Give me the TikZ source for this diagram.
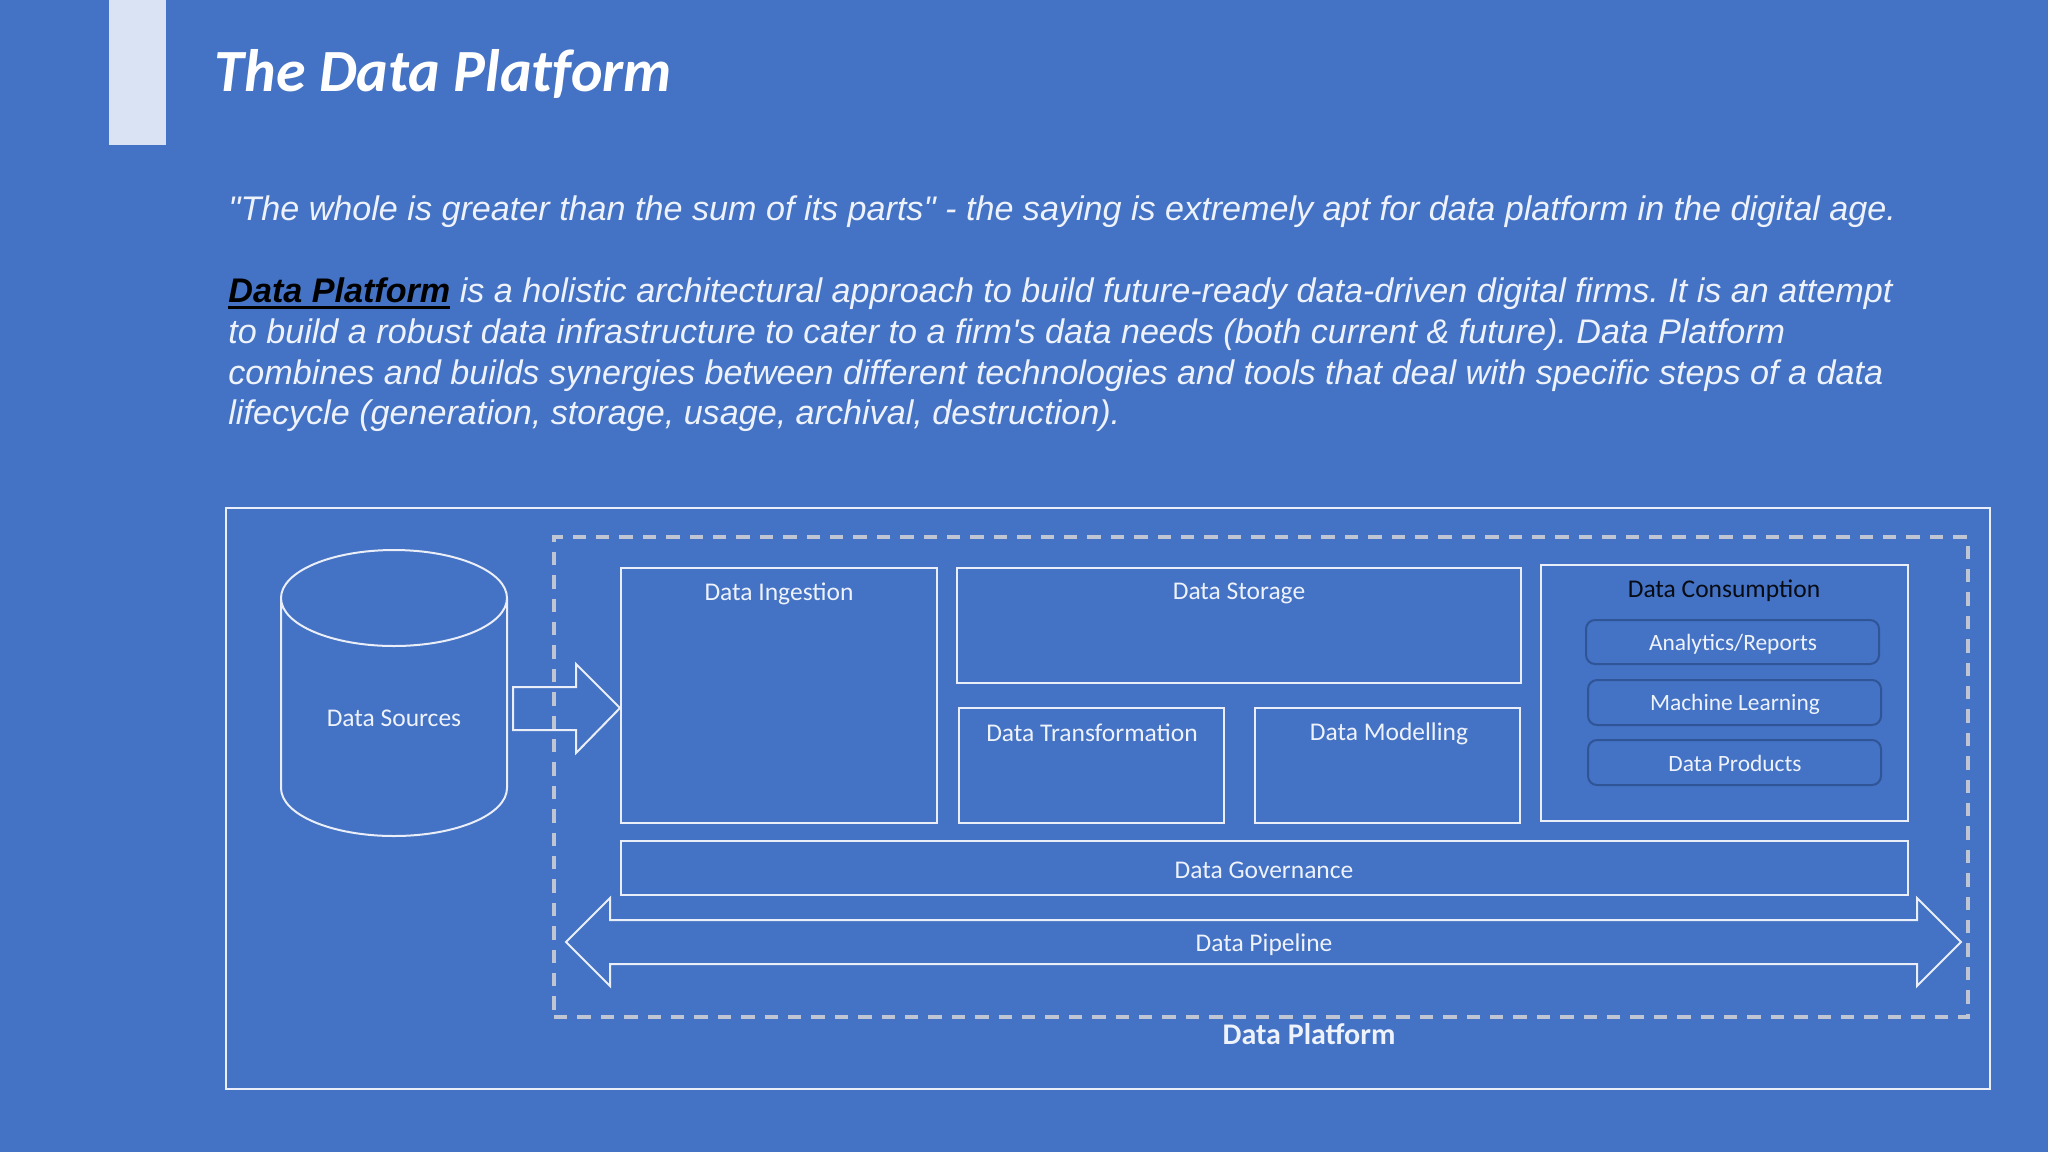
\documentclass[tikz,border=0pt]{standalone}
\usepackage{fontspec}
\setmainfont{Carlito}[Ligatures=TeX]
\newfontfamily\bodyf{Liberation Sans}
\newfontfamily\titlef{Carlito}[Ligatures={NoCommon},BoldItalicFont={Carlito Bold Italic}]
\usetikzlibrary{calc}
\definecolor{bg}{HTML}{4472C4}
\definecolor{ln}{HTML}{E9EEF8}
\definecolor{accent}{HTML}{DAE3F3}
\definecolor{dash}{HTML}{BFC5D2}
\definecolor{rnd}{HTML}{2F5597}
\definecolor{ink}{HTML}{EDF2FB}
\newcommand{\ulthick}[1]{\setbox0\hbox{#1}\rlap{\rule[-3.4pt]{\wd0}{1.9pt}}\box0}
\newcommand{\place}[6][box]{\node[#1,anchor=north west,minimum width=(#5-#3)*0.5pt,minimum height=(#6-#4)*0.5pt] (#2) at (#3,#4) {};}
\tikzset{
 box/.style={draw=ln,line width=1pt,inner sep=0pt,outer sep=0pt,rectangle},
 roundb/.style={draw=rnd,line width=1pt,inner sep=0pt,outer sep=0pt,rectangle,rounded corners=4.5pt},
 dashb/.style={draw=dash,line width=1.7pt,dash pattern=on 6.7pt off 5pt,inner sep=0pt,outer sep=0pt,rectangle},
 lbl/.style={text=ink,font=\fontsize{12.75}{15}\selectfont,inner sep=0pt},
 small/.style={lbl,font=\fontsize{11.7}{14}\selectfont},
 para/.style={text=ink,font=\frenchspacing\bodyf\itshape\fontsize{17.07}{20}\selectfont,inner sep=0pt,anchor=base west},
 arrowshape/.style={draw=ln,line width=1pt,line join=miter},
}
\begin{document}
\begin{tikzpicture}[x=0.5pt,y=-0.5pt]
\useasboundingbox (0,0) rectangle (2048,1152);
\fill[bg] (0,0) rectangle (2048,1152);
\fill[accent] (108.5,0) rectangle (166,145);
\node[text=white,font=\titlef\bfseries\itshape\fontsize{29.95}{34}\selectfont,inner sep=0pt,anchor=base west] (title) at (214.5,91) {The Data Platform};
\node[para] (l0) at (228,220.5) {"The whole is greater than the sum of its parts" - the saying is extremely apt for data platform in the digital age.};
\node[para] (l1) at (228,302.5) {\textcolor{black}{\bfseries\ulthick{Data Platform}} is a holistic architectural approach to build future-ready data-driven digital firms. It is an attempt};
\node[para] (l2) at (228,343.5) {to build a robust data infrastructure to cater to a firm's data needs (both current \& future). Data Platform};
\node[para] (l3) at (228,384) {combines and builds synergies between different technologies and tools that deal with specific steps of a data};
\node[para] (l4) at (228,424) {lifecycle (generation, storage, usage, archival, destruction).};
% frames
\place{outer}{226}{508}{1990}{1089}
\place[dashb]{platform}{554}{537}{1968}{1017}
\node[text=ink,font=\bfseries\fontsize{15}{17}\selectfont,inner sep=0pt] (platl) at (1309,1034) {Data Platform};
% cylinder
\path[draw=ln,line width=1pt] (281,598) arc[x radius=113,y radius=48,start angle=180,end angle=-180]
  (281,598) -- (281,788) arc[x radius=113,y radius=48,start angle=180,end angle=0] -- (507,598);
\node[lbl] (sources) at (394,718) {Data Sources};
% arrow
\draw[arrowshape] (513,687) -- (576,687) -- (576,664) -- (620,708) -- (576,753) -- (576,730) -- (513,730) -- cycle;
% boxes
\place{ingest}{621}{568}{937}{823}
\node[lbl] (ingestl) at (779,593.5) {Data Ingestion};
\place{storage}{957}{568}{1521}{683}
\node[lbl] (storagel) at (1239,593.5) {Data Storage};
\place{transf}{959}{708}{1224}{823}
\node[lbl] (transfl) at (1092,733) {Data Transformation};
\place{model}{1255}{708}{1520}{823}
\node[lbl] (modell) at (1389,733.5) {Data Modelling};
\place{consume}{1541}{565}{1908}{821}
\node[lbl,text=black!90!bg] (consumel) at (1724,590.5) {Data Consumption};
\place[roundb]{analytics}{1586}{620}{1879}{664}
\node[small] (analyticsl) at (1733,644) {Analytics/Reports};
\place[roundb]{ml}{1588}{680}{1881}{725}
\node[small] (mll) at (1735,704) {Machine Learning};
\place[roundb]{products}{1588}{740}{1881}{785}
\node[small] (productsl) at (1735,763.5) {Data Products};
\place{govern}{621}{841}{1908}{895}
\node[lbl] (governl) at (1264,870) {Data Governance};
% pipeline
\draw[arrowshape] (566,942) -- (610,898) -- (610,920) -- (1917,920) -- (1917,898) -- (1961,942) -- (1917,986) -- (1917,964) -- (610,964) -- (610,986) -- cycle;
\node[lbl] (pipe) at (1264,944.5) {Data Pipeline};
\end{tikzpicture}
\end{document}
